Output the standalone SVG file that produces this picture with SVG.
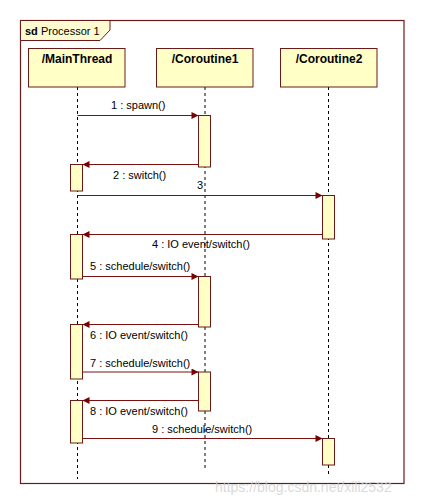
<svg xmlns="http://www.w3.org/2000/svg" width="424" height="504" viewBox="0 0 424 504">
<style>
.frame{fill:none;stroke:#6b1a1a;stroke-width:1.2}
.tab{fill:#fffbd0;stroke:#6b1a1a;stroke-width:1}
.head{fill:#ffffc6;stroke:#6b1a1a;stroke-width:1}
.act{fill:#ffffc6;stroke:#6b1a1a;stroke-width:1}
.life{stroke:#000;stroke-width:1;stroke-dasharray:3,3;fill:none}
.msg{stroke:#7a1010;stroke-width:1.2;fill:none}
.t{font-family:"Liberation Sans",Arial,sans-serif;font-size:11px;fill:#000}
.h{font-family:"Liberation Sans",Arial,sans-serif;font-size:12px;font-weight:bold;fill:#000}
</style>
<defs>
<marker id="ah" viewBox="0 0 10 10" refX="10" refY="5" markerWidth="10" markerHeight="7" markerUnits="userSpaceOnUse" orient="auto">
<path d="M0,0 L10,5 L0,10 Z" fill="#7a0000"/>
</marker>
</defs>
<rect width="424" height="504" fill="#fff"/>
<g id="frame">
<rect class="frame" x="20.5" y="20.5" width="383.5" height="463"/>
<path class="tab" d="M20.5,20.5 L110,20.5 L110,30 L100,40.5 L20.5,40.5 Z"/>
<text class="t" x="25" y="35"><tspan font-weight="bold">sd</tspan> Processor 1</text>
</g>
<g id="lifelines">
<line class="life" x1="77.5" y1="87" x2="77.5" y2="479"/>
<line class="life" x1="205" y1="87" x2="205" y2="469"/>
<line class="life" x1="328.5" y1="87" x2="328.5" y2="474"/>
</g>
<g id="MainThread">
<rect class="head" x="28.5" y="48.5" width="96.5" height="38.5"/>
<text class="h" x="77" y="63" text-anchor="middle">/MainThread</text>
</g>
<g id="Coroutine1">
<rect class="head" x="156.5" y="48.5" width="96.5" height="38.5"/>
<text class="h" x="205" y="63" text-anchor="middle">/Coroutine1</text>
</g>
<g id="Coroutine2">
<rect class="head" x="280.5" y="48.5" width="96.5" height="38.5"/>
<text class="h" x="329" y="63" text-anchor="middle">/Coroutine2</text>
</g>
<g id="activations">
<rect class="act" x="198.5" y="115.5" width="12" height="51.5"/>
<rect class="act" x="70.5" y="164.5" width="12" height="26.5"/>
<rect class="act" x="322.5" y="195.5" width="12" height="43.5"/>
<rect class="act" x="70.5" y="234.5" width="12" height="44.5"/>
<rect class="act" x="198.5" y="276.5" width="12" height="50.5"/>
<rect class="act" x="70.5" y="324.5" width="12" height="54.5"/>
<rect class="act" x="198.5" y="372" width="12" height="39"/>
<rect class="act" x="70.5" y="400.5" width="12" height="42.5"/>
<rect class="act" x="322.5" y="438.5" width="12" height="26.5"/>
</g>
<g id="connectors">
<line class="msg" x1="77.5" y1="115.5" x2="198.5" y2="115.5" marker-end="url(#ah)"/>
<line class="msg" x1="198.5" y1="164.5" x2="82.5" y2="164.5" marker-end="url(#ah)"/>
<line class="msg" x1="77.5" y1="195.5" x2="322.5" y2="195.5" marker-end="url(#ah)"/>
<line class="msg" x1="322.5" y1="234.5" x2="82.5" y2="234.5" marker-end="url(#ah)"/>
<line class="msg" x1="82.5" y1="276.5" x2="198.5" y2="276.5" marker-end="url(#ah)"/>
<line class="msg" x1="198.5" y1="324.5" x2="82.5" y2="324.5" marker-end="url(#ah)"/>
<line class="msg" x1="82.5" y1="372" x2="198.5" y2="372" marker-end="url(#ah)"/>
<line class="msg" x1="198.5" y1="400.5" x2="82.5" y2="400.5" marker-end="url(#ah)"/>
<line class="msg" x1="82.5" y1="438.5" x2="322.5" y2="438.5" marker-end="url(#ah)"/>
<text class="t" x="111" y="109">1 : spawn()</text>
<text class="t" x="113" y="179">2 : switch()</text>
<text class="t" x="197" y="189">3</text>
<text class="t" x="152" y="248">4 : IO event/switch()</text>
<text class="t" x="90" y="270">5 : schedule/switch()</text>
<text class="t" x="90" y="339">6 : IO event/switch()</text>
<text class="t" x="90" y="366.5">7 : schedule/switch()</text>
<text class="t" x="90" y="414.5">8 : IO event/switch()</text>
<text class="t" x="152" y="432.5">9 : schedule/switch()</text>
</g>
<text x="215" y="492" font-family="Liberation Sans,Arial,sans-serif" font-size="14" fill="#d0d0d0" fill-opacity="0.8">https://blog.csdn.net/xili2532</text>
</svg>
